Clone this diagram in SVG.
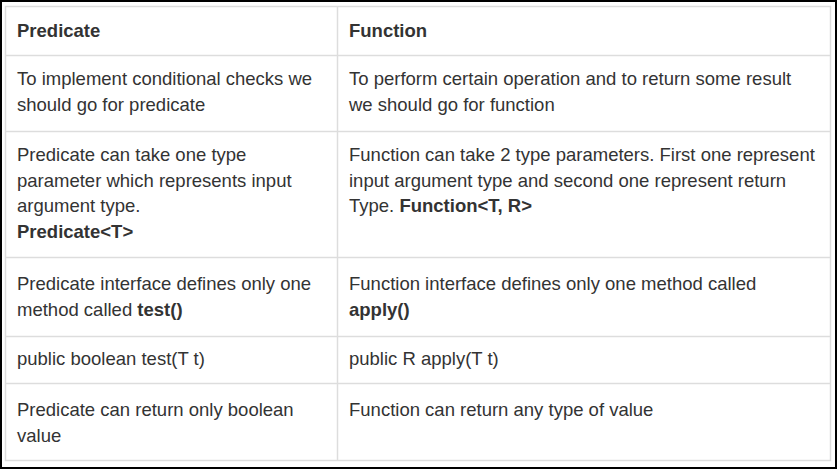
<svg xmlns="http://www.w3.org/2000/svg" width="837" height="469" viewBox="0 0 837 469">
<style>
text{font-family:"Liberation Sans",Arial,sans-serif;font-size:18.5px;fill:#333}
.b{font-weight:bold}
.g{stroke:#ddd;stroke-width:1.5;fill:none}
</style>
<rect x="0" y="0" width="837" height="469" fill="#fff"/>
<rect x="1" y="1" width="835" height="467" fill="none" stroke="#000" stroke-width="2"/>
<g id="grid">
<rect class="g" x="5.5" y="6.5" width="825" height="454"/>
<line class="g" x1="337.5" y1="6" x2="337.5" y2="461"/>
<line class="g" x1="5" y1="55.5" x2="831" y2="55.5"/>
<line class="g" x1="5" y1="131.5" x2="831" y2="131.5"/>
<line class="g" x1="5" y1="257.5" x2="831" y2="257.5"/>
<line class="g" x1="5" y1="336.5" x2="831" y2="336.5"/>
<line class="g" x1="5" y1="383.5" x2="831" y2="383.5"/>
</g>
<g id="header">
<text class="b" x="17" y="37">Predicate</text>
<text class="b" x="349" y="37">Function</text>
</g>
<g id="row1">
<text x="17" y="85">To implement conditional checks we</text>
<text x="17" y="111">should go for predicate</text>
<text x="349" y="85">To perform certain operation and to return some result</text>
<text x="349" y="111">we should go for function</text>
</g>
<g id="row2">
<text x="17" y="161">Predicate can take one type</text>
<text x="17" y="187">parameter which represents input</text>
<text x="17" y="212">argument type.</text>
<text class="b" x="17" y="238">Predicate&lt;T&gt;</text>
<text x="349" y="161">Function can take 2 type parameters. First one represent</text>
<text x="349" y="187">input argument type and second one represent return</text>
<text x="349" y="212">Type. <tspan class="b">Function&lt;T, R&gt;</tspan></text>
</g>
<g id="row3">
<text x="17" y="290">Predicate interface defines only one</text>
<text x="17" y="316">method called <tspan class="b">test()</tspan></text>
<text x="349" y="290">Function interface defines only one method called</text>
<text class="b" x="349" y="316">apply()</text>
</g>
<g id="row4">
<text x="17" y="365">public boolean test(T t)</text>
<text x="349" y="365">public R apply(T t)</text>
</g>
<g id="row5">
<text x="17" y="416">Predicate can return only boolean</text>
<text x="17" y="442">value</text>
<text x="349" y="416">Function can return any type of value</text>
</g>
</svg>
